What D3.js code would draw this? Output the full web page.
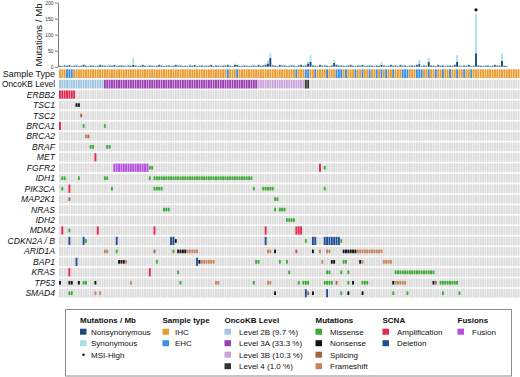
<!DOCTYPE html>
<html>
<head>
<meta charset="utf-8">
<script src="https://cdn.jsdelivr.net/npm/d3@7"></script>
<style>
  body { margin: 0; background: #fff; }
  svg text { font-family: "Liberation Sans", Arial, Helvetica, sans-serif; }
</style>
</head>
<body>
<div id="vizcontainer"></div>
<script>
// ---- data ----
const genes = ['ERBB2', 'TSC1', 'TSC2', 'BRCA1', 'BRCA2', 'BRAF', 'MET', 'FGFR2', 'IDH1', 'PIK3CA',
  'MAP2K1', 'NRAS', 'IDH2', 'MDM2', 'CDKN2A / B', 'ARID1A', 'BAP1', 'KRAS', 'TP53', 'SMAD4'];

// mutations / Mb per sample (195 samples)
const tmbNonsyn = [
  3, 2, 4, 3, 5, 2, 3, 4, 2, 3, 6, 3, 2, 4, 3,
  2, 3, 5, 4, 3, 2, 4, 3, 5, 2, 3, 4, 3, 2, 4,
  3, 6, 4, 2, 3, 5, 3, 2, 4, 3, 2, 3, 5, 4, 2,
  3, 4, 2, 3, 5, 3, 4, 2, 3, 2, 4, 3, 5, 2, 3,
  4, 2, 3, 3, 5, 2, 4, 3, 2, 3, 4, 5, 3, 2, 6,
  5, 3, 2, 4, 3, 2, 3, 4, 2, 5, 3, 4, 6, 10, 27,
  4, 3, 2, 5, 3, 4, 2, 3, 4, 3, 2, 4, 5, 3, 4,
  10, 15, 4, 3, 2, 5, 3, 4, 3, 2, 4, 12, 5, 3, 4,
  3, 2, 4, 5, 3, 2, 4, 3, 5, 2, 3, 4, 3, 2, 4,
  3, 6, 4, 2, 3, 5, 3, 4, 2, 5, 3, 4, 2, 3, 4,
  3, 5, 8, 2, 4, 3, 15, 4, 3, 2, 5, 3, 4, 2, 3,
  4, 3, 5, 15, 3, 2, 4, 3, 5, 2, 3, 42, 4, 3, 2,
  3, 4, 2, 3, 5, 3, 4, 18, 3, 2, 0, 0, 0, 0, 0
];
const tmbSyn = [
  2, 1, 3, 2, 2, 1, 2, 3, 1, 2, 3, 2, 1, 2, 2,
  1, 2, 3, 2, 2, 1, 3, 2, 2, 1, 2, 3, 2, 1, 2,
  2, 21, 2, 1, 2, 3, 2, 1, 2, 2, 1, 2, 3, 2, 1,
  2, 2, 1, 2, 3, 2, 2, 1, 2, 1, 3, 2, 2, 1, 2,
  2, 1, 2, 2, 3, 1, 2, 2, 1, 2, 3, 3, 2, 1, 4,
  3, 2, 1, 2, 2, 1, 2, 3, 1, 3, 2, 2, 4, 10, 15,
  2, 2, 1, 3, 2, 2, 1, 2, 2, 2, 1, 3, 3, 2, 3,
  6, 21, 2, 2, 1, 3, 2, 2, 2, 1, 2, 9, 3, 2, 2,
  2, 1, 2, 3, 2, 1, 2, 2, 3, 1, 2, 2, 2, 1, 2,
  2, 9, 2, 1, 2, 3, 2, 2, 1, 3, 2, 2, 1, 2, 2,
  2, 3, 13, 1, 2, 2, 12, 2, 2, 1, 3, 2, 2, 1, 2,
  2, 2, 3, 21, 2, 1, 2, 2, 3, 1, 2, 123, 2, 2, 1,
  2, 2, 1, 2, 3, 2, 2, 24, 2, 1, 0, 0, 0, 0, 0
];
const msiHigh = [176];
const tmbTicks = [0, 50, 100, 150, 200];

// sample type: EHC samples, the rest IHC
const ehcSamples = [3, 4, 5, 71, 75, 100, 104, 105, 108, 113, 117, 118, 119, 121, 125, 128, 131, 134,
  136, 138, 141, 145, 146, 147, 151, 152, 153, 156, 159, 162, 165, 168, 171, 174];

// OncoKB level, samples sorted by level
const oncokbLevels = ['2B', '3A', '3B', '4'];
const oncokbCounts = [19, 65, 20, 2];

const missense = [
  ['BRCA1', [10, 19]],
  ['BRAF', [13, 14, 20, 21]],
  ['FGFR2', [38, 39, 112]],
  ['IDH1', [1, 2, 8, 19, 20, 38, 40, 41, 42, 43, 44, 45, 46, 47, 48, 49, 50, 51, 52, 53, 54, 55, 56, 57,
    58, 59, 60, 61, 62, 63, 64, 65, 66, 67, 68, 69, 70, 71, 72, 73, 74, 75, 76, 77, 78, 79, 80, 81]],
  ['PIK3CA', [1, 22, 40, 41, 42, 43, 82, 86, 87, 88, 89, 90, 112]],
  ['MAP2K1', [91, 92]],
  ['NRAS', [44, 45, 46, 91, 93, 94, 95]],
  ['IDH2', [96, 97, 98, 99]],
  ['MDM2', [4]],
  ['CDKN2A / B', [11, 104, 119]],
  ['ARID1A', [24, 48]],
  ['BAP1', [41, 83, 84, 93, 96, 120, 121]],
  ['KRAS', [50, 97, 113, 114, 119, 122, 142, 143, 144, 145, 146, 147, 148, 149, 150, 151, 152, 153,
    154, 155, 156, 157, 158]],
  ['TP53', [10, 11, 51, 82, 101, 103, 104, 105, 112, 113, 114, 115, 122, 128, 129, 130, 161, 162, 163,
    164, 165, 166, 167, 168]],
  ['SMAD4', [4, 5, 119, 141, 147, 162, 169]]
];
const nonsense = [
  ['TSC1', [7, 8]],
  ['CDKN2A / B', [49]],
  ['ARID1A', [50, 51, 52, 53, 91, 107, 120, 121, 122, 123, 124, 125]],
  ['BAP1', [25, 26, 27, 59, 115, 116, 127]],
  ['TP53', [0, 4, 5, 8, 15, 124, 141, 158]],
  ['SMAD4', [91, 107, 122, 128]]
];
const splicing = [
  ['TSC2', [9]],
  ['BRCA2', [12]],
  ['MAP2K1', [4]],
  ['ARID1A', [40, 100]],
  ['TP53', [117, 159]],
  ['SMAD4', [105]]
];
const frameshift = [
  ['BRCA2', [11]],
  ['ARID1A', [19, 20, 54, 55, 56, 57, 58, 88, 89, 110, 113, 114, 126, 127, 128, 129, 130, 131, 132,
    133, 134, 135, 136]],
  ['BAP1', [28, 60, 61, 62, 63, 64, 65, 111, 128, 137, 138, 139, 140]],
  ['TP53', [30, 66, 67, 88, 89, 142, 143, 144, 145, 146]],
  ['SMAD4', [15, 17]]
];
const amplification = [
  ['ERBB2', [0, 1, 2, 3, 4, 5, 6]],
  ['BRCA1', [0]],
  ['MET', [15]],
  ['FGFR2', [110]],
  ['PIK3CA', [4]],
  ['MDM2', [1, 16, 40, 87, 100, 101, 102]],
  ['KRAS', [4, 38]]
];
const deletion = [
  ['CDKN2A / B', [4, 10, 24, 47, 48, 87, 107, 108, 112, 113, 114, 115, 116, 117, 118]],
  ['BAP1', [7, 58]],
  ['SMAD4', [104, 113]]
];
const fusion = [
  ['FGFR2', [23, 24, 25, 26, 27, 28, 29, 30, 31, 32, 33, 34, 35, 36, 37]]
];

// ---- colours ----
const colors = {
  nonsyn: '#1d4a7c', syn: '#a7e2e6', ihc: '#e89c2f', ehc: '#3a8ee4',
  '2B': '#9fc5e3', '3A': '#9a3db0', '3B': '#c9a3d7', '4': '#343434',
  missense: '#3aaa35', nonsense: '#111111', splicing: '#a9623f', frameshift: '#c7845c',
  amp: '#e8264e', del: '#1f4e97', fusion: '#b64ce2', empty: '#dcdcdc'
};

const width = 520, height = 377;
const nSamples = tmbNonsyn.length;
const samples = d3.range(nSamples);

const svg = d3.select('#vizcontainer')
  .append('svg')
  .attr('width', width)
  .attr('height', height);

const x = d3.scaleBand()
  .domain(samples)
  .range([59, 519.5])
  .paddingInner(0.2);

const rows = ['Sample Type', 'OncoKB Level'].concat(genes);
const y = d3.scaleBand()
  .domain(rows)
  .range([69.3, 297.6])
  .paddingInner(0.16);

const yTmb = d3.scaleLinear()
  .domain([0, 200])
  .range([66.7, 2.6]);

// ---- mutation burden bars ----
const bars = svg.append('g');
bars.selectAll('.nonsyn')
  .data(samples)
  .join('rect')
  .attr('class', 'nonsyn')
  .attr('x', d => x(d))
  .attr('width', x.bandwidth())
  .attr('y', d => yTmb(tmbNonsyn[d]))
  .attr('height', d => yTmb(0) - yTmb(tmbNonsyn[d]))
  .attr('fill', colors.nonsyn);

bars.selectAll('.syn')
  .data(samples)
  .join('rect')
  .attr('class', 'syn')
  .attr('x', d => x(d))
  .attr('width', x.bandwidth())
  .attr('y', d => yTmb(tmbNonsyn[d] + tmbSyn[d]))
  .attr('height', d => yTmb(tmbNonsyn[d]) - yTmb(tmbNonsyn[d] + tmbSyn[d]))
  .attr('fill', colors.syn);

bars.selectAll('circle')
  .data(msiHigh)
  .join('circle')
  .attr('cx', d => x(d) + x.bandwidth() / 2)
  .attr('cy', d => yTmb(tmbNonsyn[d] + tmbSyn[d]) - 4)
  .attr('r', 1.6)
  .attr('fill', '#111');

const axis = svg.append('g')
  .attr('transform', 'translate(58,0)')
  .call(d3.axisLeft(yTmb).tickValues(tmbTicks).tickSize(3).tickSizeOuter(0).tickPadding(1.5));
axis.selectAll('text').attr('font-size', '5px').attr('fill', '#333');
axis.selectAll('line, path').attr('stroke', '#444').attr('stroke-width', 0.7);

svg.append('text')
  .text('Mutations / Mb')
  .attr('transform', 'translate(41.5,35) rotate(-90)')
  .attr('text-anchor', 'middle')
  .attr('font-size', '9.6px')
  .attr('fill', '#111');

// ---- grid ----
const sampleLevel = oncokbLevels.flatMap((lv, i) => d3.range(oncokbCounts[i]).map(() => lv));

const cells = rows.flatMap(r => samples.map(s => ({ r, s })));
svg.append('g')
  .selectAll('rect')
  .data(cells)
  .join('rect')
  .attr('x', d => x(d.s))
  .attr('y', d => y(d.r))
  .attr('width', x.bandwidth())
  .attr('height', y.bandwidth())
  .attr('fill', d => {
    if (d.r === 'Sample Type') return ehcSamples.includes(d.s) ? colors.ehc : colors.ihc;
    if (d.r === 'OncoKB Level') return sampleLevel[d.s] ? colors[sampleLevel[d.s]] : colors.empty;
    return colors.empty;
  });

function flatten(list, type) {
  return list.flatMap(([gene, cols]) => cols.map(c => ({ gene, c, type })));
}

const cna = flatten(amplification, 'amp')
  .concat(flatten(deletion, 'del'))
  .concat(flatten(fusion, 'fusion'));

svg.append('g')
  .selectAll('rect')
  .data(cna)
  .join('rect')
  .attr('x', d => x(d.c))
  .attr('y', d => y(d.gene) + 0.3)
  .attr('width', x.bandwidth())
  .attr('height', y.bandwidth() - 0.6)
  .attr('fill', d => colors[d.type]);

const muts = flatten(missense, 'missense')
  .concat(flatten(splicing, 'splicing'))
  .concat(flatten(frameshift, 'frameshift'))
  .concat(flatten(nonsense, 'nonsense'));

const markH = 3.6;
svg.append('g')
  .selectAll('rect')
  .data(muts)
  .join('rect')
  .attr('x', d => x(d.c))
  .attr('y', d => y(d.gene) + (y.bandwidth() - markH) / 2)
  .attr('width', x.bandwidth())
  .attr('height', markH)
  .attr('fill', d => colors[d.type]);

// row labels
svg.append('g')
  .selectAll('text')
  .data(rows)
  .join('text')
  .text(d => d)
  .attr('x', 55)
  .attr('y', d => y(d) + y.bandwidth() / 2)
  .attr('dy', '0.35em')
  .attr('text-anchor', 'end')
  .attr('font-size', (d, i) => i === 0 ? '9px' : i === 1 ? '8.3px' : '8.6px')
  .attr('font-style', (d, i) => i < 2 ? 'normal' : 'italic')
  .attr('fill', '#111');

// ---- legend ----
svg.append('rect')
  .attr('x', 65.5)
  .attr('y', 309.5)
  .attr('width', 446)
  .attr('height', 66.5)
  .attr('fill', 'none')
  .attr('stroke', '#8c8c8c')
  .attr('stroke-width', 1);

const levelLabel = (lv, i) => `Level ${lv} (${(oncokbCounts[i] / nSamples * 100).toFixed(1)} %)`;

const legendGroups = [
  { title: 'Mutations / Mb', x: 80, tx: 91, items: [['Nonsynonymous', colors.nonsyn], ['Synonymous', colors.syn], ['MSI-High', 'dot']] },
  { title: 'Sample type', x: 162.5, tx: 175, items: [['IHC', colors.ihc], ['EHC', colors.ehc]] },
  { title: 'OncoKB Level', x: 224.5, tx: 239, items: oncokbLevels.map((lv, i) => [levelLabel(lv, i), colors[lv]]) },
  { title: 'Mutations', x: 315.5, tx: 330, items: [['Missense', colors.missense], ['Nonsense', colors.nonsense], ['Splicing', colors.splicing], ['Frameshift', colors.frameshift]] },
  { title: 'SCNA', x: 382.5, tx: 397, items: [['Amplification', colors.amp], ['Deletion', colors.del]] },
  { title: 'Fusions', x: 457.5, tx: 472, items: [['Fusion', colors.fusion]] }
];

const lg = svg.append('g')
  .selectAll('g')
  .data(legendGroups)
  .join('g');

lg.append('text')
  .text(d => d.title)
  .attr('x', d => d.x)
  .attr('y', 319.8)
  .attr('dy', '0.35em')
  .attr('font-size', '8px')
  .attr('font-weight', 'bold')
  .attr('fill', '#111');

const li = lg.selectAll('.item')
  .data(d => d.items.map((it, i) => ({ label: it[0], color: it[1], i, x: d.x, tx: d.tx })))
  .join('g')
  .attr('class', 'item')
  .attr('transform', d => `translate(0,${331.7 + d.i * 11.5})`);

li.filter(d => d.color !== 'dot')
  .append('rect')
  .attr('x', d => d.x)
  .attr('y', -3)
  .attr('width', 6.5)
  .attr('height', 6)
  .attr('fill', d => d.color);

li.filter(d => d.color === 'dot')
  .append('circle')
  .attr('cx', d => d.x + 3.5)
  .attr('cy', 0)
  .attr('r', 1.3)
  .attr('fill', '#111');

li.append('text')
  .text(d => d.label)
  .attr('x', d => d.tx)
  .attr('y', 0)
  .attr('dy', '0.35em')
  .attr('font-size', '8px')
  .attr('fill', '#111');
</script>
</body>
</html>
